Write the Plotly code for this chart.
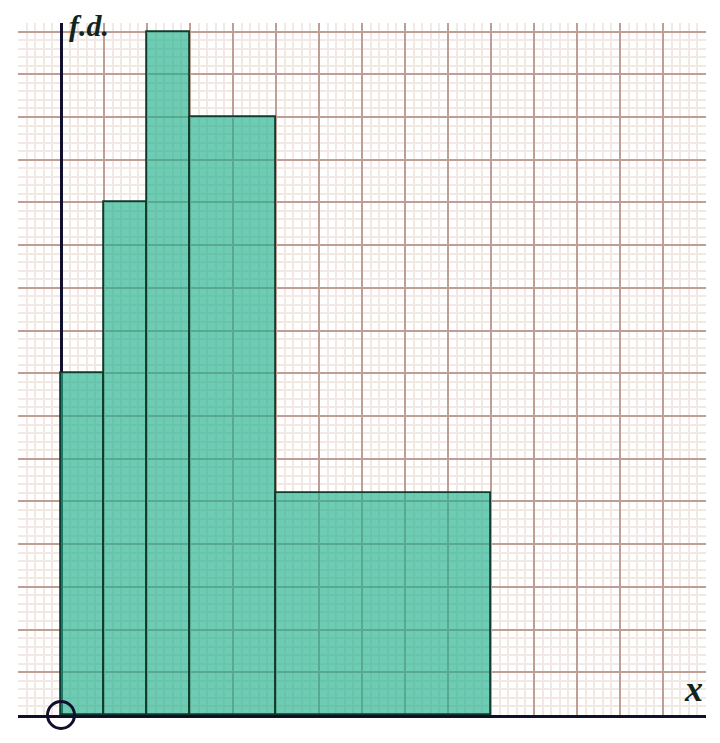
import plotly.graph_objects as go

# class boundaries and frequency densities of the histogram
class_edges = [0, 1, 2, 3, 5, 10]
freq_density = [8, 12, 16, 14, 5.2]

mids = [(a + b) / 2 for a, b in zip(class_edges[:-1], class_edges[1:])]
widths = [b - a for a, b in zip(class_edges[:-1], class_edges[1:])]

ink = "#120f2e"

fig = go.Figure()

fig.add_trace(go.Bar(
    x=mids, y=freq_density, width=widths,
    marker=dict(color="rgba(32,175,140,0.65)",
                line=dict(color="#0f3b2b", width=1.8)),
    hoverinfo="skip",
))

# open circle at the origin
fig.add_trace(go.Scatter(
    x=[0], y=[0], mode="markers",
    marker=dict(symbol="circle-open", size=27, color=ink,
                line=dict(width=3, color=ink)),
    cliponaxis=False, hoverinfo="skip",
))

fig.update_xaxes(
    range=[-1, 15], tick0=0, dtick=1,
    showgrid=True, gridcolor="#bf9f95", gridwidth=1.6,
    minor=dict(dtick=0.2, showgrid=True, gridcolor="#f2e9e5", gridwidth=1.6),
    zeroline=True, zerolinecolor=ink, zerolinewidth=3,
    showline=True, linecolor=ink, linewidth=3,
    showticklabels=False, ticks="",
)
fig.update_yaxes(
    range=[0, 16.2], tick0=0, dtick=1,
    showgrid=True, gridcolor="#bf9f95", gridwidth=1.6,
    minor=dict(dtick=0.2, showgrid=True, gridcolor="#f2e9e5", gridwidth=1.6),
    zeroline=False, showline=False,
    showticklabels=False, ticks="",
)

label_font = dict(family="Liberation Serif", size=30, color="#10241e")
fig.add_annotation(text="<b><i>f.d.</i></b>", x=0.14, xanchor="left",
                   y=0.9965, yref="paper", yanchor="middle",
                   showarrow=False, font=label_font)
fig.add_annotation(text="<b><i>x</i></b>", x=14.72, y=0.62,
                   xanchor="center", yanchor="middle",
                   showarrow=False, font=dict(family="Liberation Serif",
                                              size=36, color="#10241e"))

fig.update_layout(
    width=720, height=743,
    margin=dict(l=10, r=22, t=15, b=36),
    plot_bgcolor="white", paper_bgcolor="white",
    showlegend=False, bargap=0,
)

fig.write_html("out.html")
